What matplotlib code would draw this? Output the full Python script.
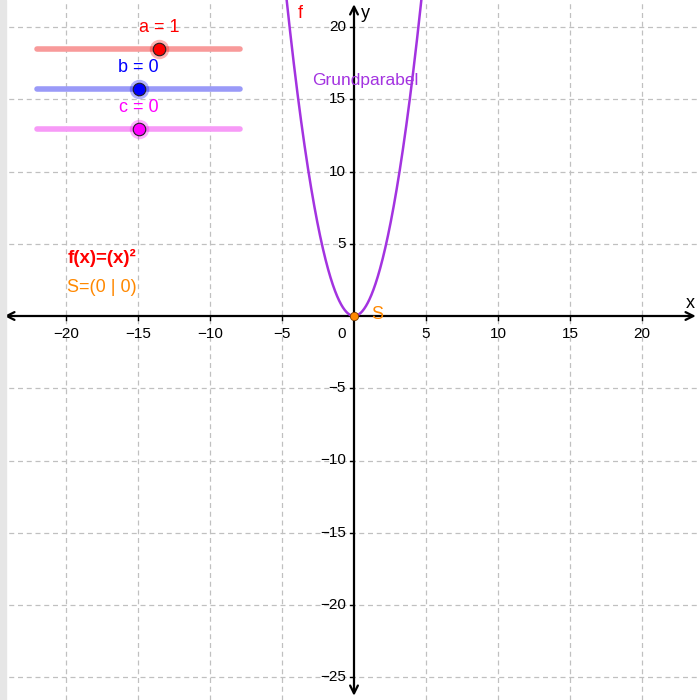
import numpy as np
import matplotlib
matplotlib.use("Agg")
import matplotlib.pyplot as plt
plt.rcParams['font.family'] = ['Liberation Sans', 'DejaVu Sans']

x_ticks = [-20, -15, -10, -5, 5, 10, 15, 20]
y_ticks = [-25, -20, -15, -10, -5, 5, 10, 15, 20]
a_val, b_val, c_val = 1, 0, 0
slider_min, slider_max = -5, 5
slider_names = ["a", "b", "c"]
slider_values = [a_val, b_val, c_val]
slider_colors = ["#ff0000", "#0000ff", "#ff00ff"]
slider_line_colors = ["#f89a9a", "#9a9af8", "#f79af7"]

fig = plt.figure(figsize=(7, 7), dpi=100)
ax = fig.add_axes([0, 0, 1, 1])
x0, x1 = -354 / 14.4, 346 / 14.4
y0, y1 = -384 / 14.45, 316 / 14.45
ax.set_xlim(x0, x1); ax.set_ylim(y0, y1)
ax.axis("off")

grid_x = [v for v in range(-20, 25, 5) if v != 0]
grid_y = [v for v in range(-25, 25, 5) if v != 0]
for gx in grid_x:
    ax.axvline(gx, color="#c0c0c0", lw=0.9, ls=(0, (4, 3)), zorder=0)
for gy in grid_y:
    ax.axhline(gy, color="#c0c0c0", lw=0.9, ls=(0, (4, 3)), zorder=0)

ax.annotate("", xy=(x0 + 0.1, 0), xytext=(x1 - 0.1, 0),
            arrowprops=dict(arrowstyle="<->", lw=1.6, color="black", mutation_scale=14))
ax.annotate("", xy=(0, y0 + 0.1), xytext=(0, y1 - 0.1),
            arrowprops=dict(arrowstyle="<->", lw=1.6, color="black", mutation_scale=14))
ax.text(x1 - 0.7, 0.3, "x", fontsize=13, ha="center", va="bottom")
ax.text(0.5, y1 - 0.9, "y", fontsize=13, ha="left", va="center")

for t in x_ticks:
    ax.plot([t, t], [0, -0.25], color="black", lw=1)
    ax.text(t, -0.75, f"{t}".replace("-", "\u2212"), ha="center", va="top", fontsize=11)
for t in y_ticks:
    ax.plot([0, -0.25], [t, t], color="black", lw=1)
    ax.text(-0.55, t, f"{t}".replace("-", "\u2212"), ha="right", va="center", fontsize=11)
ax.text(-0.55, -0.75, "0", ha="right", va="top", fontsize=11)

xs = np.linspace(-6, 6, 600)
ys = a_val * (xs - b_val) ** 2 + c_val
ax.plot(xs, ys, color="#a333e0", lw=1.8, zorder=3)
ax.text(-3.7, 20.9, "f", color="#ff0000", fontsize=13, ha="center", va="center")
ax.text(-2.9, 16.3, "Grundparabel", color="#a333e0", fontsize=12.5, ha="left", va="center")
ax.plot([b_val], [c_val], "o", ms=6, color="#ff8800", mec="#7a3d00", mew=0.6, zorder=5)
ax.text(1.6, 0.1, "S", color="#ff8800", fontsize=13, ha="center", va="center")

ax.text(-19.9, 4.0, "f(x)=(x)\u00b2", color="#ff0000", fontsize=13.5, fontweight="bold", va="center")
ax.text(-19.9, 2.0, f"S=({b_val} | {c_val})", color="#ff8800", fontsize=13, va="center")

T = fig.transFigure
for i, (n, v, col, lcol) in enumerate(zip(slider_names, slider_values, slider_colors, slider_line_colors)):
    py = 49 + 40 * i
    xa, xb = 37, 240
    frac = (v - slider_min) / (slider_max - slider_min)
    kx = xa + frac * (xb - xa)
    fy = 1 - py / 700
    ax.plot([xa / 700, xb / 700], [fy, fy], transform=T, color=lcol, lw=4, solid_capstyle="round")
    ax.plot([kx / 700], [fy], "o", transform=T, ms=14, color=col, alpha=0.3, mew=0)
    ax.plot([kx / 700], [fy], "o", transform=T, ms=9, color=col, mec="#202020", mew=0.8)
    ax.text(kx / 700, fy + 22 / 700, f"{n} = {v}", transform=T, color=col, fontsize=13, ha="center", va="center")

fig.patches.append(plt.Rectangle((0, 0), 6 / 700, 1, transform=T, color="#e6e6e6"))
fig.savefig("out.png", dpi=100)
